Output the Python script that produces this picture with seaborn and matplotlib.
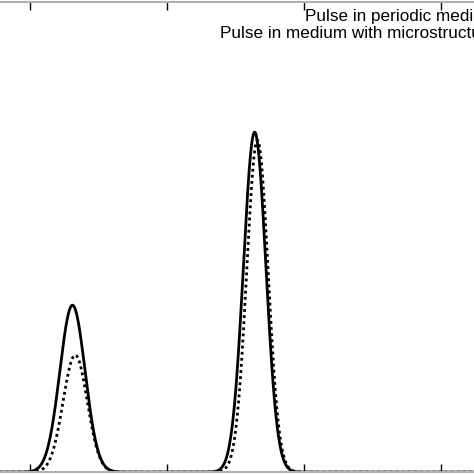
import numpy as np
import matplotlib
matplotlib.use("Agg")
import matplotlib.pyplot as plt
import seaborn as sns

sns.set_style("white")
plt.rcParams['font.family'] = ['Liberation Sans', 'DejaVu Sans']

# pulse parameters: centre, height, width
centers_periodic = [0.31, 1.64]
heights_periodic = [0.355, 0.723]
widths_periodic = [0.092, 0.082]
centers_micro = [0.33, 1.66]
heights_micro = [0.249, 0.706]
widths_micro = [0.088, 0.078]
labels = ["Pulse in periodic medium", "Pulse in medium with microstructure"]

x = np.linspace(-0.3, 3.3, 1200)
def pulse(cs, hs, ws):
    return sum(h * np.exp(-0.5 * ((x - c) / w) ** 2) for c, h, w in zip(cs, hs, ws))

fig = plt.figure(figsize=(4.74, 4.74), dpi=100)
ax = fig.add_axes([0, 0.004, 1, 0.992])
sns.lineplot(x=x, y=pulse(centers_periodic, heights_periodic, widths_periodic), ax=ax,
             color="black", lw=2.0)
sns.lineplot(x=x, y=pulse(centers_micro, heights_micro, widths_micro), ax=ax,
             color="black", lw=2.0, linestyle=(0, (1, 1.2)))
ax.set_xlim(-0.219, 3.241)
ax.set_ylim(0, 1)
ax.set_xticks([0, 1, 2, 3])
ax.set_xticklabels([])
ax.set_yticks([])
ax.tick_params(axis="x", direction="in", length=6, width=1, top=True, bottom=True, color="black")
for s in ["left", "right"]:
    ax.spines[s].set_visible(False)
for s in ["top", "bottom"]:
    ax.spines[s].set_color("#b0b0b0")
    ax.spines[s].set_linewidth(1.5)

fig.text(305 / 474, 1 - 16 / 474, labels[0], fontsize=12.3, va="center", ha="left", color="black")
fig.text(220 / 474, 1 - 34 / 474, labels[1], fontsize=12.3, va="center", ha="left", color="black")

fig.savefig("out.png", dpi=100)
